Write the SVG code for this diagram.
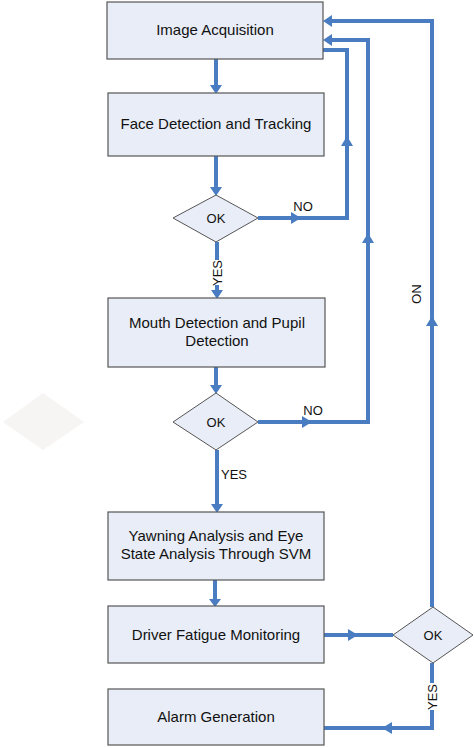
<svg xmlns="http://www.w3.org/2000/svg" width="474" height="748" viewBox="0 0 474 748">
<defs>
<style>
.box{fill:#e8edf7;stroke:#555;stroke-width:1.2}
.dia{fill:#e8edf7;stroke:#555;stroke-width:1}
.t{font-family:"Liberation Sans",Arial,sans-serif;font-size:15px;fill:#111;text-anchor:middle}
.s{font-family:"Liberation Sans",Arial,sans-serif;font-size:13px;fill:#111;text-anchor:middle}
.c{fill:none;stroke:#4a7cc1;stroke-width:4;stroke-linejoin:miter}
.ah{fill:#4a7cc1}
</style>
</defs>
<rect width="474" height="748" fill="#fff"/>
<polygon points="3,422 43,393 84,422 43,450" fill="#f7f4f4"/>
<g id="connectors">
<path class="c" d="M216,59 V86"/>
<polygon class="ah" points="210,85 222,85 216,94"/>
<path class="c" d="M216,156 V188"/>
<polygon class="ah" points="210,187 222,187 216,196"/>
<path class="c" d="M217,242 V291"/>
<polygon class="ah" points="211,290 223,290 217,299"/>
<path class="c" d="M216,367 V386"/>
<polygon class="ah" points="210,385 222,385 216,394"/>
<path class="c" d="M217,450 V505"/>
<polygon class="ah" points="211,504 223,504 217,513"/>
<path class="c" d="M215,580 V600"/>
<polygon class="ah" points="209,599 221,599 215,607"/>
<path class="c" d="M324,635 H393"/>
<polygon class="ah" points="348,629 358,635 348,641"/>
<path class="c" d="M258,218 H347 V50 H323"/>
<polygon class="ah" points="291,212 301,218 291,224"/>
<polygon class="ah" points="341,146 353,146 347,136"/>
<path class="c" d="M258,422 H368 V40 H331"/>
<polygon class="ah" points="302,416 312,422 302,428"/>
<polygon class="ah" points="362,243 374,243 368,233"/>
<polygon class="ah" points="332,34 332,46 323,40"/>
<path class="c" d="M432,607 V21 H331"/>
<polygon class="ah" points="426,326 438,326 432,316"/>
<polygon class="ah" points="332,15 332,27 323,21"/>
<path class="c" d="M432,663 V728 H324"/>
<polygon class="ah" points="392,722 392,734 382,728"/>
<text class="s" x="303" y="211">NO</text>
<text class="s" x="313" y="415">NO</text>
<text class="s" x="234" y="479">YES</text>
<rect x="210" y="260" width="14" height="25" fill="#fff"/>
<text class="s" transform="translate(222,273) rotate(-90)">YES</text>
<text class="s" transform="translate(412,294) rotate(90)">NO</text>
<rect x="425" y="683" width="14" height="27" fill="#fff"/>
<text class="s" transform="translate(437,697) rotate(-90)">YES</text>
</g>
<g id="n1"><rect class="box" x="107" y="2" width="216" height="57"/><text class="t" x="215" y="35">Image Acquisition</text></g>
<g id="n2"><rect class="box" x="108" y="93" width="216" height="63"/><text class="t" x="216" y="129">Face Detection and Tracking</text></g>
<g id="d1"><polygon class="dia" points="173,218 216,195 258,218 216,242"/><text class="s" x="216" y="223">OK</text></g>
<g id="n3"><rect class="box" x="108" y="298" width="217" height="69"/><text class="t" x="217" y="328">Mouth Detection and Pupil</text><text class="t" x="217" y="346">Detection</text></g>
<g id="d2"><polygon class="dia" points="173,422 216,393 258,422 216,450"/><text class="s" x="216" y="427">OK</text></g>
<g id="n4"><rect class="box" x="108" y="512" width="216" height="68"/><text class="t" x="216" y="541">Yawning Analysis and Eye</text><text class="t" x="216" y="559">State Analysis Through SVM</text></g>
<g id="n5"><rect class="box" x="108" y="606" width="216" height="57"/><text class="t" x="216" y="640">Driver Fatigue Monitoring</text></g>
<g id="d3"><polygon class="dia" points="393,635 433,607 473,635 433,663"/><text class="s" x="433" y="640">OK</text></g>
<g id="n6"><rect class="box" x="108" y="689" width="216" height="56"/><text class="t" x="216" y="722">Alarm Generation</text></g>
</svg>
